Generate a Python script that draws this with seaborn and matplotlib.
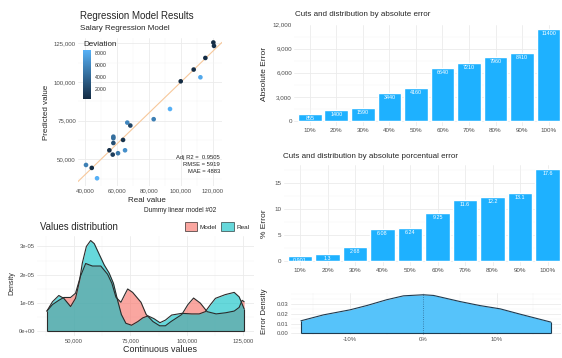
import numpy as np
import pandas as pd
import matplotlib
matplotlib.use("Agg")
import matplotlib.pyplot as plt
import seaborn as sns
from matplotlib.colors import LinearSegmentedColormap, Normalize
from matplotlib.cm import ScalarMappable
from matplotlib.patches import Patch
from matplotlib.ticker import AutoMinorLocator

# --- 데이터 ---
real_value = [40600, 44200, 47500, 55200, 57300, 57700, 57700, 57700, 60600, 63750, 65000,
              66400, 68300, 82900, 93100, 99800, 107900, 112100, 115200, 120200, 120600]
pred_value = [46300, 44400, 37700, 55800, 53000, 63600, 64600, 60500, 53900, 62500, 55800,
              73700, 71800, 75900, 82500, 100400, 108000, 103000, 115500, 125500, 123300]
deviation = [5500, 500, 8500, 600, 1500, 4500, 4500, 2500, 5000, 800, 6500,
             6000, 2000, 5500, 8500, 300, 500, 8000, 400, 400, 700]

# 밀도 곡선 (단위 1e-05)
x_real = [38000, 40500, 43300, 45500, 48500, 50700, 52500, 53700, 55500, 57400, 59000, 60400,
          63400, 65600, 67500, 69300, 71000, 73000, 75500, 78300, 80500, 82800, 85500, 88100,
          90500, 93300, 97800, 102200, 105500, 108200, 110500, 112700, 117000, 121000, 123200, 125400]
dens_real = [0.72, 1.05, 1.27, 1.17, 0.88, 1.17, 1.8, 2.41, 3.0, 3.21, 3.1, 2.86,
             2.35, 2.06, 1.7, 1.11, 0.6, 0.29, 0.22, 0.35, 0.48, 0.55, 0.45, 0.31,
             0.4, 0.58, 0.64, 0.62, 0.62, 0.70, 0.95, 1.17, 1.3, 1.38, 1.22, 0.8]
x_model = [38000, 40500, 43300, 45500, 48500, 50700, 52900, 55200, 56800, 58200, 61900, 64900,
           66800, 68600, 70800, 72500, 73800, 76000, 79700, 82000, 85000, 88000, 90500, 93000,
           97800, 100500, 103000, 106000, 109000, 113000, 117200, 121000, 123200, 124500, 125400]
dens_model = [0.72, 0.95, 1.1, 1.2, 1.2, 1.35, 1.95, 2.4, 2.35, 2.31, 2.31, 2.02,
              1.7, 1.21, 1.03, 1.3, 1.5, 1.38, 1.03, 0.6, 0.35, 0.2, 0.2, 0.35,
              0.6, 0.95, 1.18, 1.0, 0.7, 0.62, 0.66, 0.72, 0.85, 1.1, 1.05]

cuts = ['10%', '20%', '30%', '40%', '50%', '60%', '70%', '80%', '90%', '100%']
abs_error = [855, 1400, 1590, 3440, 4160, 6640, 7210, 7960, 8410, 11400]
pct_error = [0.901, 1.3, 2.68, 6.08, 6.24, 9.25, 11.6, 12.2, 13.1, 17.6]

err_x = [-16.7, -13.6, -10, -7.7, -5.0, -2.7, 0, 1.4, 5.0, 7.7, 10.5, 13.2, 17.4]
err_density = [0.0128, 0.0189, 0.024, 0.0284, 0.0343, 0.0383, 0.0394, 0.0387, 0.0325,
               0.0284, 0.025, 0.0196, 0.0115]

# --- 스타일 ---
sns.set_theme(style="whitegrid", rc={"grid.color": "#EBEBEB", "grid.linewidth": 0.6})
plt.rcParams['font.family'] = ['Liberation Sans', 'DejaVu Sans']
plt.rcParams['axes.unicode_minus'] = False

W, H = 562, 358
fig = plt.figure(figsize=(W / 100, H / 100), dpi=100)
fig.patch.set_facecolor('white')


def rect(l, t, r, b):
    return [l / W, 1 - b / H, (r - l) / W, (b - t) / H]


def ftext(x, y, s, **kw):
    fig.text(x / W, 1 - y / H, s, **kw)


def clean(ax, fs=4.4):
    for sp in ax.spines.values():
        sp.set_visible(False)
    ax.tick_params(length=0, pad=1.5, labelsize=fs, colors='#4D4D4D')
    ax.grid(True, which='major', color='#EBEBEB', lw=0.6)
    ax.grid(True, which='minor', color='#F3F3F3', lw=0.35)
    ax.set_xlabel('')
    ax.set_ylabel('')


# 1. 산점도
cmap = LinearSegmentedColormap.from_list('dev', ['#132B43', '#56B1F7'])
norm = Normalize(380, 8550)
ax1 = fig.add_axes(rect(78, 38, 222, 186))
ax1.axline((0, 0), slope=1, color='#F7C89B', lw=0.8, zorder=1)
scat_df = pd.DataFrame({'real': real_value, 'pred': pred_value, 'dev': deviation})
sns.scatterplot(data=scat_df, x='real', y='pred', hue='dev', palette=cmap, hue_norm=norm,
                legend=False, s=11, linewidth=0, ax=ax1, zorder=3)
ax1.set_xlim(35600, 125600)
ax1.set_ylim(32700, 128400)
ax1.set_xticks([40000, 60000, 80000, 100000, 120000])
ax1.set_yticks([50000, 75000, 100000, 125000])
ax1.set_xticklabels(['40,000', '60,000', '80,000', '100,000', '120,000'])
ax1.set_yticklabels(['50,000', '75,000', '100,000', '125,000'])
ax1.xaxis.set_minor_locator(AutoMinorLocator(2))
ax1.yaxis.set_minor_locator(AutoMinorLocator(2))
clean(ax1, 4.4)
ax1.text(0.985, 0.145, 'Adj R2 =  0.9505\nRMSE = 5919\nMAE = 4883', transform=ax1.transAxes,
         ha='right', va='center', fontsize=4.2, linespacing=1.5, color='#222222')

cax = fig.add_axes(rect(83, 50, 91, 99))
cb = fig.colorbar(ScalarMappable(norm=norm, cmap=cmap), cax=cax, ticks=[2000, 4000, 6000, 8000])
cb.outline.set_visible(False)
cax.tick_params(length=1.5, width=0.4, color='white', pad=1.5, labelsize=3.8, labelcolor='#333333')
cax.grid(False)
ftext(83, 44.5, 'Deviation', fontsize=5.8, va='center', ha='left')

ftext(80, 15.7, 'Regression Model Results', fontsize=7, va='center', ha='left')
ftext(80, 28.3, 'Salary Regression Model', fontsize=5.8, va='center', ha='left')
ftext(46, 112, 'Predicted value', fontsize=5.8, rotation=90, va='center', ha='center')
ftext(147, 200, 'Real value', fontsize=5.8, va='center', ha='center')
ftext(180, 211, 'Dummy linear model #02', fontsize=4.7, va='center', ha='center')

# 2. 값 분포 (밀도)
ax2 = fig.add_axes(rect(37, 236, 254, 336))
dr = np.array(dens_real) * 1e-5
dm = np.array(dens_model) * 1e-5
ax2.fill_between(x_model, dm, color='#F8766D', alpha=0.65, lw=0, zorder=2)
sns.lineplot(x=x_model, y=dm, color='#2B2B2B', lw=0.8, ax=ax2, zorder=4, sort=False)
ax2.fill_between(x_real, dr, color='#00BFC4', alpha=0.6, lw=0, zorder=3)
sns.lineplot(x=x_real, y=dr, color='#2B2B2B', lw=0.8, ax=ax2, zorder=4, sort=False)
ax2.vlines([x_real[0], x_real[-1]], 0, [dr[0], dr[-1]], color='#2B2B2B', lw=0.8, zorder=4)
ax2.hlines(0, x_real[0], x_real[-1], color='#2B2B2B', lw=0.8, zorder=4)
ax2.set_xlim(33630, 129770)
ax2.set_ylim(-0.16e-5, 3.37e-5)
ax2.set_xticks([50000, 75000, 100000, 125000])
ax2.set_xticklabels(['50,000', '75,000', '100,000', '125,000'])
ax2.set_yticks([0, 1e-5, 2e-5, 3e-5])
ax2.set_yticklabels(['0e+00', '1e-05', '2e-05', '3e-05'])
ax2.xaxis.set_minor_locator(AutoMinorLocator(2))
ax2.yaxis.set_minor_locator(AutoMinorLocator(2))
clean(ax2, 4.2)
ftext(40, 226.7, 'Values distribution', fontsize=6.9, va='center', ha='left')
ftext(12, 283, 'Density', fontsize=5, rotation=90, va='center', ha='center')
ftext(160, 350, 'Continuous values', fontsize=6.4, va='center', ha='center')
handles = [Patch(facecolor='#F8766D', alpha=0.65, edgecolor='black', lw=0.6),
           Patch(facecolor='#00BFC4', alpha=0.6, edgecolor='black', lw=0.6)]
fig.legend(handles, ['Model', 'Real'], loc='center', bbox_to_anchor=(217 / W, 1 - 226.5 / H),
           ncol=2, frameon=False, fontsize=4.6, handlelength=2.0, handleheight=1.8,
           handletextpad=0.4, columnspacing=0.6, borderpad=0)

# 3. 절대오차 막대
bar_color = '#1EB1FF'
ax3 = fig.add_axes(rect(294, 24.5, 561, 125.6))
sns.barplot(x=cuts, y=abs_error, color=bar_color, width=0.9, saturation=1, ax=ax3)
ax3.bar_label(ax3.containers[0], labels=[str(v) for v in abs_error], padding=-5,
              color='white', fontsize=3.9)
ax3.set_xlim(-0.6, 9.47)
ax3.set_ylim(-570, 11970)
ax3.set_yticks([0, 3000, 6000, 9000, 12000])
ax3.set_yticklabels(['0', '3,000', '6,000', '9,000', '12,000'])
ax3.yaxis.set_minor_locator(AutoMinorLocator(2))
clean(ax3, 4.5)
ftext(295, 15, 'Cuts and distribution by absolute error', fontsize=5.8, va='center', ha='left')
ftext(265, 74, 'Absolute Error', fontsize=6, rotation=90, va='center', ha='center')

# 4. 백분율 오차 막대
ax4 = fig.add_axes(rect(283.5, 164.5, 561, 265.6))
sns.barplot(x=cuts, y=pct_error, color=bar_color, width=0.9, saturation=1, ax=ax4)
ax4.bar_label(ax4.containers[0], labels=['{:.3g}'.format(v) for v in pct_error], padding=-5,
              color='white', fontsize=3.9)
ax4.set_xlim(-0.6, 9.49)
ax4.set_ylim(-0.88, 18.48)
ax4.set_yticks([0, 5, 10, 15])
ax4.yaxis.set_minor_locator(AutoMinorLocator(2))
clean(ax4, 4.5)
ftext(283, 156, 'Cuts and distribution by absolute porcentual error', fontsize=5.8,
      va='center', ha='left')
ftext(265, 224, '% Error', fontsize=6, rotation=90, va='center', ha='center')

# 5. 오차 밀도
ax5 = fig.add_axes(rect(291, 292.8, 561, 335.3))
ax5.fill_between(err_x, err_density, color='#56C3FA', lw=0, zorder=2)
sns.lineplot(x=err_x, y=err_density, color='#1E3A4F', lw=0.8, ax=ax5, zorder=4)
ax5.vlines([err_x[0], err_x[-1]], 0, [err_density[0], err_density[-1]], color='#1E3A4F', lw=0.8, zorder=4)
ax5.hlines(0, err_x[0], err_x[-1], color='#1E3A4F', lw=0.8, zorder=4)
ax5.axvline(0, color='#2F6A93', lw=0.6, ls=':', zorder=3)
ax5.set_xlim(-18.05, 18.79)
ax5.set_ylim(-0.002, 0.0414)
ax5.set_xticks([-10, 0, 10])
ax5.set_xticklabels(['-10%', '0%', '10%'])
ax5.set_yticks([0, 0.01, 0.02, 0.03])
ax5.set_yticklabels(['0.00', '0.01', '0.02', '0.03'])
ax5.xaxis.set_minor_locator(AutoMinorLocator(2))
ax5.yaxis.set_minor_locator(AutoMinorLocator(2))
clean(ax5, 4.3)
ftext(265, 311, 'Error Density', fontsize=5.6, rotation=90, va='center', ha='center')

fig.savefig('out.png', dpi=100, facecolor='white')
